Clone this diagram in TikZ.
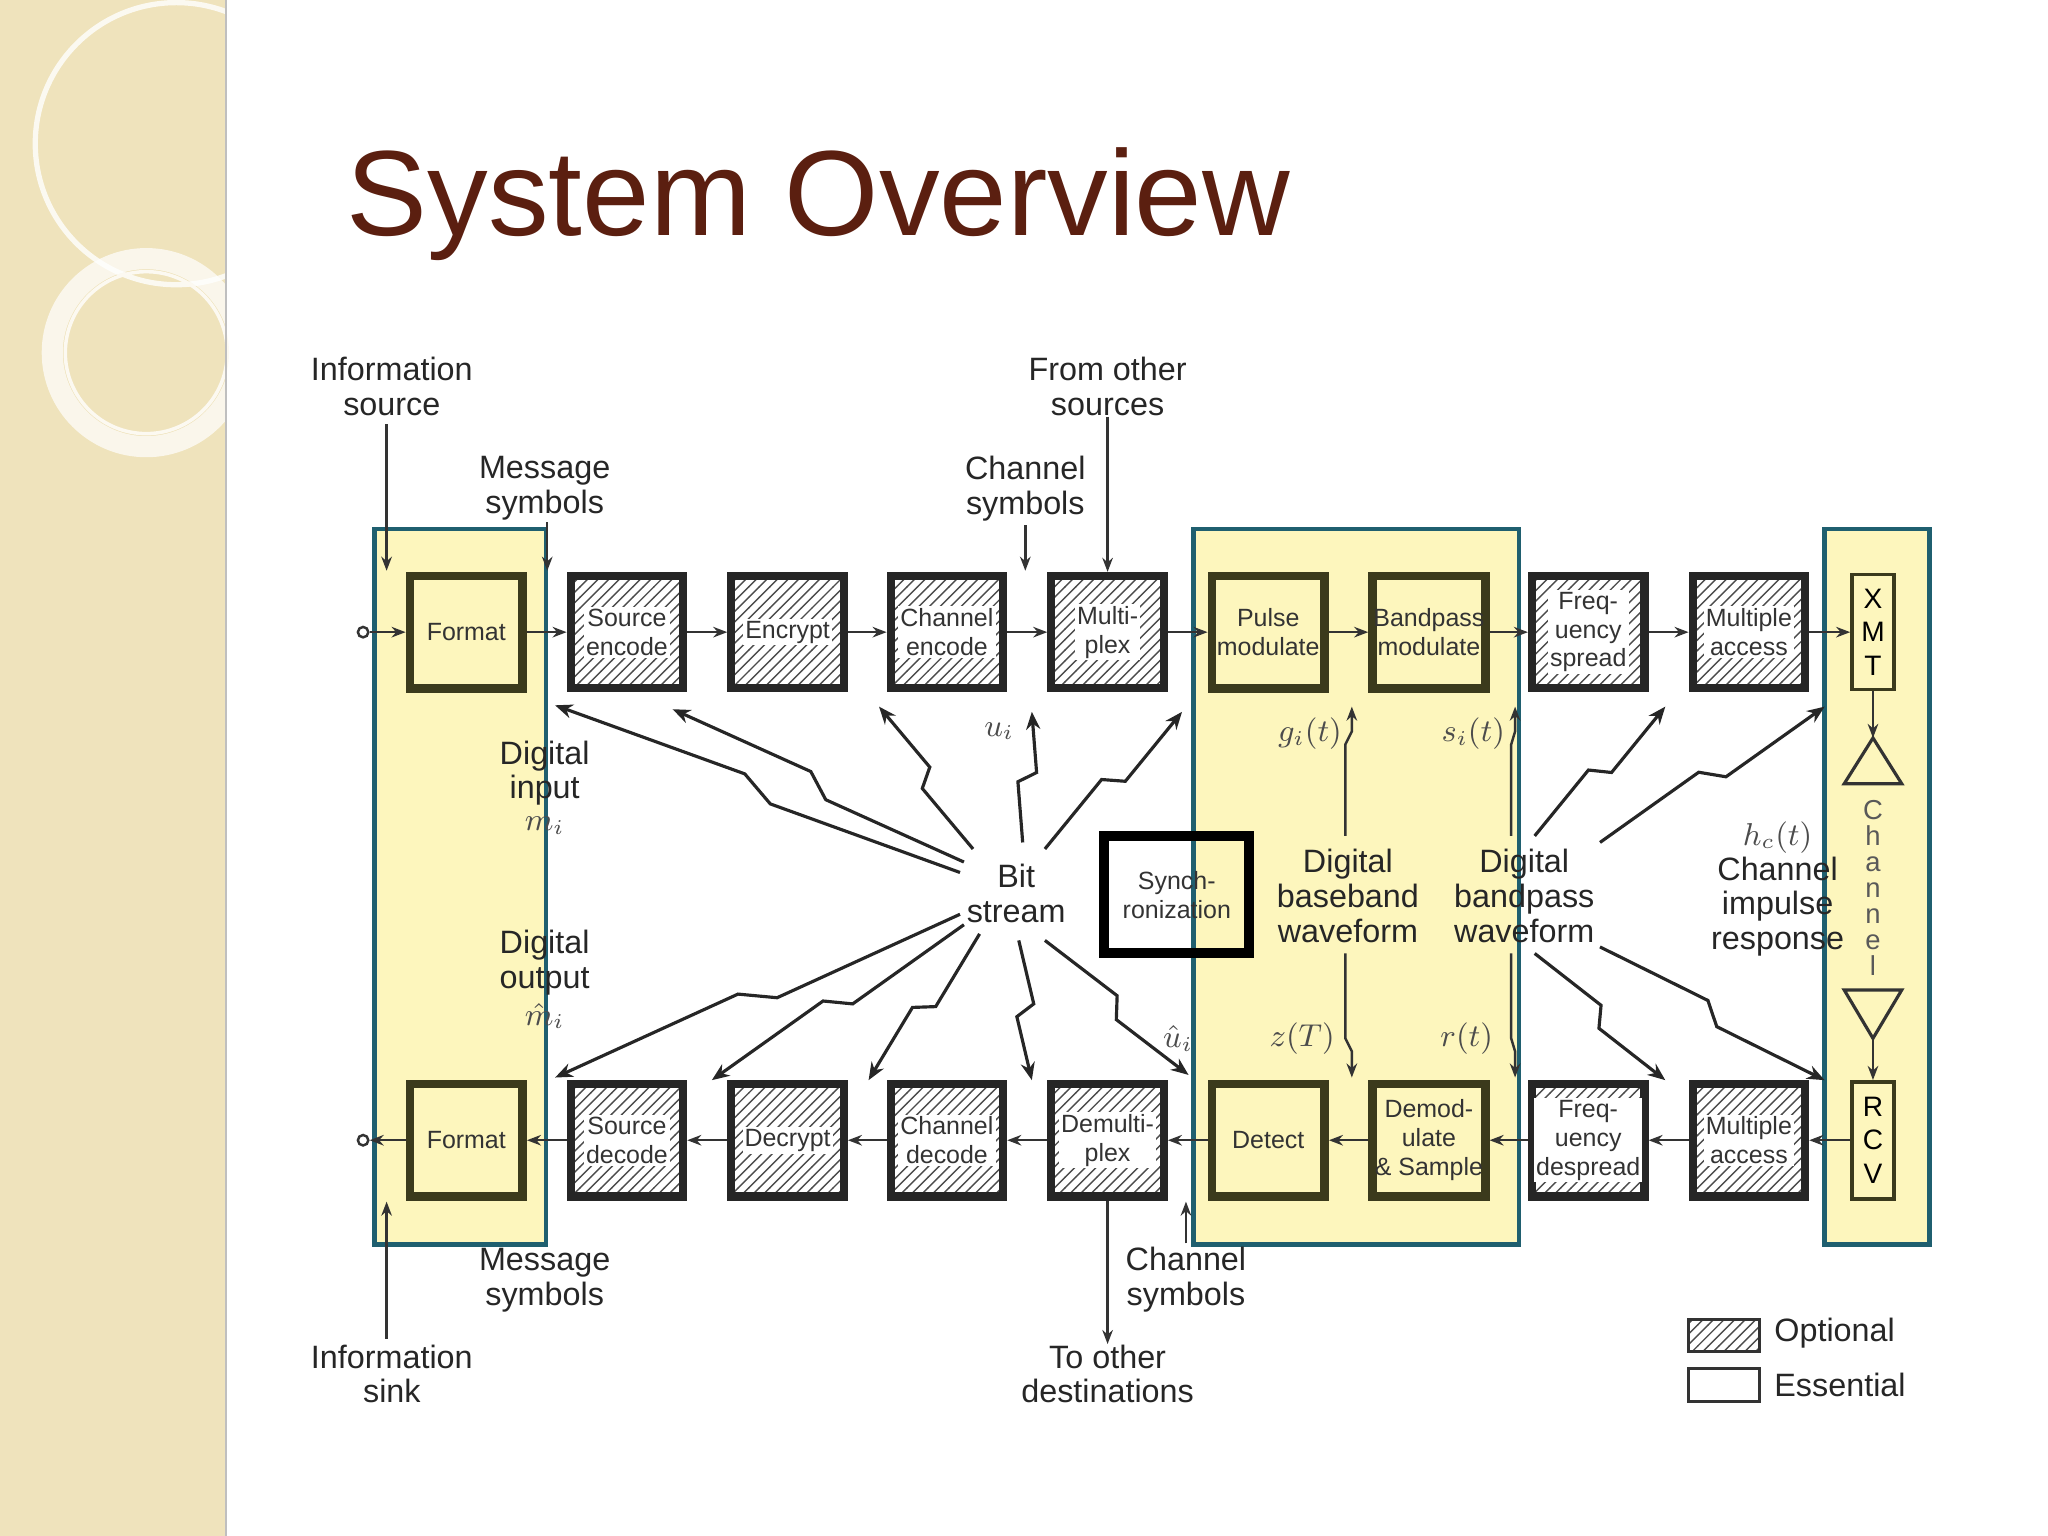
\documentclass[tikz,border=0pt]{standalone}
\usepackage{fontspec}
\setmainfont{Liberation Sans}
\usetikzlibrary{patterns,calc,arrows.meta}
\definecolor{strip}{HTML}{EFE3BC}
\definecolor{titlec}{HTML}{5B1F10}
\definecolor{hl}{HTML}{FDF6BD}
\definecolor{hlb}{HTML}{1F5F6F}
\definecolor{ess}{HTML}{3B3A1C}
\newcommand\zz[2]{\draw[bolt] (#1) -- ($(#1)!0.46!(#2)!0.09cm!90:(#2)$) -- ($(#1)!0.54!(#2)!0.09cm!-90:(#2)$) -- (#2);}
\begin{document}
\begin{tikzpicture}[x=0.013061cm,y=-0.013061cm,
  lab/.style={font=\fontsize{9.2}{9.9}\selectfont,align=center,inner sep=0pt,text=black!85},
  btxt/.style={font=\fontsize{7.1}{8.2}\selectfont,align=center,inner sep=0.6pt,fill=white,text=black!80},
  etxt/.style={font=\fontsize{7.1}{8.2}\selectfont,align=center,inner sep=0.6pt,text=black!80},
  opt/.style={draw=black!85,line width=2.3pt,pattern=north east lines,pattern color=black!70,minimum width=1.125cm,minimum height=1.125cm},
  ess/.style={draw=ess,line width=2.5pt,minimum width=1.125cm,minimum height=1.125cm},
  arr/.style={-{Stealth[length=4pt,width=3pt]},line width=0.7pt,black!80},
  bolt/.style={-{Stealth[length=5pt,width=4pt]},line width=0.9pt,black!85},
  hlr/.style={fill=hl,draw=hlb,line width=1.4pt},
  mth/.style={font=\fontsize{9}{10}\selectfont,inner sep=0pt,text=black!70}]
\useasboundingbox (0,0) rectangle (1568,1176);
% left strip
\fill[strip] (0,0) rectangle (173,1176);
\begin{scope}
\clip (0,0) rectangle (200,1176);
\draw[white,line width=1.5pt,opacity=0.8] (135,110) circle (108);
\draw[white,line width=6pt,opacity=0.7] (112,270) circle (72);
\draw[white!80!strip,line width=1pt] (112,270) circle (62);
\end{scope}
\draw[black!25,line width=0.6pt] (173,0) -- (173,1176);
% title
\node[anchor=base west,font=\fontsize{34.5}{36}\selectfont,text=titlec,inner sep=0pt] (title) at (265,180) {System Overview};
% highlights
\draw[hlr] (287,405) rectangle (418,953);
\draw[hlr] (914,405) rectangle (1163,953);
\draw[hlr] (1397,405) rectangle (1477,953);
% sync box
\node[draw=black,line width=2.8pt,minimum width=1.45cm,minimum height=1.17cm] (sync) at (901,685) {};
\node[etxt] at (sync) {Synch-\\ronization};
% top row
\node[ess] (f1) at (357,484) {}; \node[etxt] at (f1) {Format};
\node[opt] (se) at (480,484) {}; \node[btxt] at (se) {Source\\encode};
\node[opt] (en) at (603,484) {}; \node[btxt] at (en) {Encrypt};
\node[opt] (ce) at (725,484) {}; \node[btxt] at (ce) {Channel\\encode};
\node[opt] (mx) at (848,484) {}; \node[btxt] at (mx) {Multi-\\plex};
\node[ess] (pm) at (971,484) {}; \node[etxt] at (pm) {Pulse\\modulate};
\node[ess] (bm) at (1094,484) {}; \node[etxt] at (bm) {Bandpass\\modulate};
\node[opt] (fs) at (1216,484) {}; \node[btxt] at (fs) {Freq-\\uency\\spread};
\node[opt] (ma1) at (1339,484) {}; \node[btxt] at (ma1) {Multiple\\access};
% bottom row
\node[ess] (f2) at (357,873) {}; \node[etxt] at (f2) {Format};
\node[opt] (sd) at (480,873) {}; \node[btxt] at (sd) {Source\\decode};
\node[opt] (de) at (603,873) {}; \node[btxt] at (de) {Decrypt};
\node[opt] (cd) at (725,873) {}; \node[btxt] at (cd) {Channel\\decode};
\node[opt] (dm) at (848,873) {}; \node[btxt] at (dm) {Demulti-\\plex};
\node[ess] (dt) at (971,873) {}; \node[etxt] at (dt) {Detect};
\node[ess] (ds) at (1094,873) {}; \node[etxt] at (ds) {Demod-\\ulate\\\& Sample};
\node[opt] (fd) at (1216,873) {}; \node[btxt] at (fd) {Freq-\\uency\\despread};
\node[opt] (ma2) at (1339,873) {}; \node[btxt] at (ma2) {Multiple\\access};
% XMT / RCV
\node[draw=ess,line width=1pt,minimum width=0.42cm,minimum height=1.15cm,font=\fontsize{8}{9.5}\selectfont,align=center,inner sep=0pt] (xmt) at (1434,484) {X\\M\\T};
\node[draw=ess,line width=1pt,minimum width=0.42cm,minimum height=1.17cm,font=\fontsize{8}{9.5}\selectfont,align=center,inner sep=0pt] (rcv) at (1434,873) {R\\C\\V};
\draw[line width=0.9pt,black!80] (1434,565) -- (1412,600) -- (1456,600) -- cycle;
\coordinate (t1top) at (1434,565); \coordinate (t1bot) at (1434,600);
\draw[line width=0.9pt,black!80] (1434,795) -- (1412,758) -- (1456,758) -- cycle;
\coordinate (t2top) at (1434,758); \coordinate (t2bot) at (1434,795);
\node[font=\fontsize{7.8}{7.4}\selectfont,align=center,text=black!65,inner sep=0pt] (chv) at (1434,680) {C\\h\\a\\n\\n\\e\\l};
\draw[arr] (xmt) -- (t1top);
\draw[arr] (t2bot) -- (rcv);
% chains
\coordinate (in) at (278,484); \coordinate (out) at (278,873);
\draw[black!80,line width=0.7pt] (in) circle (4);
\draw[black!80,line width=0.7pt] (out) circle (4);
\draw[arr] (283,484) -- (f1);
\draw[arr] (f1) -- (se); \draw[arr] (se) -- (en); \draw[arr] (en) -- (ce); \draw[arr] (ce) -- (mx);
\draw[arr] (mx) -- (pm); \draw[arr] (pm) -- (bm); \draw[arr] (bm) -- (fs); \draw[arr] (fs) -- (ma1); \draw[arr] (ma1) -- (xmt);
\draw[arr] (rcv) -- (ma2); \draw[arr] (ma2) -- (fd); \draw[arr] (fd) -- (ds); \draw[arr] (ds) -- (dt); \draw[arr] (dt) -- (dm);
\draw[arr] (dm) -- (cd); \draw[arr] (cd) -- (de); \draw[arr] (de) -- (sd); \draw[arr] (sd) -- (f2); \draw[arr] (f2) -- (283,873);
% top labels
\node[lab] (isrc) at (300,296) {Information\\source};
\draw[arr] (296,325) -- (296,437);
\node[lab] (ms1) at (417,374) {Message\\symbols};
\draw[arr] (419,400) -- (419,437);
\node[lab] (cs1) at (785,374) {Channel\\symbols};
\draw[arr] (785,402) -- (785,437);
\node[lab] (fos) at (848,296) {From other\\sources};
\draw[arr] (fos) -- (mx);
% bottom labels
\node[lab] (isnk) at (300,1052) {Information\\sink};
\draw[arr] (296,1025) -- (296,920);
\node[lab] (ms2) at (417,980) {Message\\symbols};
\node[lab] (cs2) at (908,980) {Channel\\symbols};
\draw[arr] (908,952) -- (908,920);
\node[lab] (tod) at (848,1052) {To other\\destinations};
\draw[arr] (mx |- dm.south) -- (tod);
% middle labels
\node[lab] (bs) at (778,684) {Bit\\stream};
\node[lab] (din) at (417,592) {Digital\\input};
\node[mth] (mi) at (417,632) {$m_i$};
\node[lab] (dout) at (417,737) {Digital\\output};
\node[mth] (mh) at (417,778) {$\hat m_i$};
\node[lab] (dbb) at (1032,686) {Digital\\baseband\\waveform};
\node[lab] (dbp) at (1167,686) {Digital\\bandpass\\waveform};
\node[mth] (hct) at (1361,641) {$h_c(t)$};
\node[lab] (hc) at (1361,694) {Channel\\impulse\\response};
% vertical waveform arrows
\node[mth] (gi) at (1003,562) {$g_i(t)$};
\node[mth] (si) at (1128,562) {$s_i(t)$};
\node[mth] (zT) at (997,795) {$z(T)$};
\node[mth] (rt) at (1123,795) {$r(t)$};
\node[mth] (ui) at (765,560) {$u_i$};
\node[mth] (uh) at (902,795) {$\hat u_i$};
\draw[arr] (1030,640) -- (1030,570) -- (1035,560) -- (1035,541);
\draw[arr] (1157,640) -- (1157,570) -- (1160,560) -- (1160,541);
\draw[arr] (1030,730) -- (1030,795) -- (1035,805) -- (1035,825);
\draw[arr] (1157,730) -- (1157,795) -- (1160,805) -- (1160,825);
% bolts
\coordinate (a1) at (735,668); \coordinate (b1) at (425,540);
\coordinate (a2) at (738,660); \coordinate (b2) at (515,543);
\coordinate (a3) at (745,650); \coordinate (b3) at (673,541);
\coordinate (a4) at (783,645); \coordinate (b4) at (790,545);
\coordinate (a5) at (800,650); \coordinate (b5) at (905,545);
\coordinate (a6) at (735,700); \coordinate (b6) at (425,825);
\coordinate (a7) at (738,708); \coordinate (b7) at (545,827);
\coordinate (a8) at (750,715); \coordinate (b8) at (665,827);
\coordinate (a9) at (780,720); \coordinate (b9) at (790,827);
\coordinate (a10) at (800,720); \coordinate (b10) at (910,823);
\coordinate (a11) at (1175,640); \coordinate (b11) at (1275,541);
\coordinate (a12) at (1225,645); \coordinate (b12) at (1397,541);
\coordinate (a13) at (1175,730); \coordinate (b13) at (1275,827);
\coordinate (a14) at (1225,725); \coordinate (b14) at (1397,827);
\zz{a1}{b1}\zz{a2}{b2}\zz{a3}{b3}\zz{a4}{b4}\zz{a5}{b5}
\zz{a6}{b6}\zz{a7}{b7}\zz{a8}{b8}\zz{a9}{b9}\zz{a10}{b10}
\zz{a11}{b11}\zz{a12}{b12}\zz{a13}{b13}\zz{a14}{b14}
% legend
\draw[black!80,line width=0.8pt,pattern=north east lines,pattern color=black!70] (1293,1010) rectangle (1347,1035);
\node[lab,anchor=west] (lo) at (1358,1021) {Optional};
\draw[black!80,line width=0.8pt] (1293,1048) rectangle (1347,1073);
\node[lab,anchor=west] (le) at (1358,1060) {Essential};
\end{tikzpicture}
\end{document}
